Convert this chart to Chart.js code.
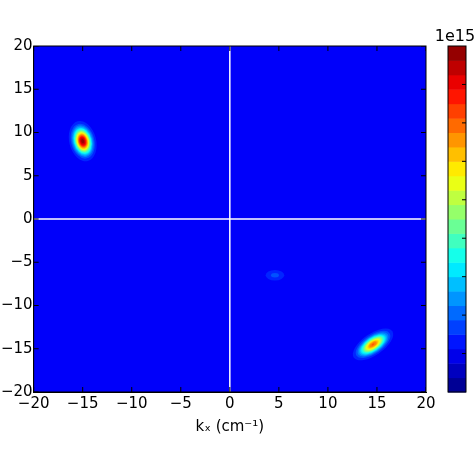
<!DOCTYPE html>
<html>
<head>
<meta charset="utf-8">
<script src="https://cdn.jsdelivr.net/npm/chart.js@4/dist/chart.umd.min.js"></script>
<style>
  body { margin: 0; background: #fff; }
  #wrap { width: 474px; height: 474px; }
</style>
</head>
<body>
<div id="wrap"><canvas id="myChart"></canvas></div>
<script>
// blob peaks (values in units of 1e15)
const blobX = [-15, 14.6, 4.6];
const blobY = [9, -14.5, -6.5];
const blobPeak = [1.0, 0.8, 0.22];
const blobSx = [0.55, 1.0, 0.7];
const blobSy = [0.95, 0.52, 0.45];
const blobTilt = [-0.25, -0.6, 0];
const axisTicks = [-20, -15, -10, -5, 0, 5, 10, 15, 20];
const baseLevel = 0.12;

function jet(t) {
    const c = v => Math.round(255 * Math.max(0, Math.min(1, v)));
    return 'rgb(' + c(1.5 - Math.abs(4 * t - 3)) + ',' + c(1.5 - Math.abs(4 * t - 2)) + ',' + c(1.5 - Math.abs(4 * t - 1)) + ')';
}
const fmt = v => String(v).replace('-', '\u2212');

const heatPlugin = {
    id: 'heat',
    beforeDatasetsDraw(chart) {
        const {ctx, chartArea: a, scales: {x, y}} = chart;
        ctx.save();
        ctx.beginPath();
        ctx.rect(a.left, a.top, a.right - a.left, a.bottom - a.top);
        ctx.clip();
        ctx.fillStyle = jet(baseLevel);
        ctx.fillRect(a.left, a.top, a.right - a.left, a.bottom - a.top);
        const pxX = Math.abs(x.getPixelForValue(1) - x.getPixelForValue(0));
        const pxY = Math.abs(y.getPixelForValue(1) - y.getPixelForValue(0));
        for (let i = 0; i < blobX.length; i++) {
            const cx = x.getPixelForValue(blobX[i]);
            const cy = y.getPixelForValue(blobY[i]);
            for (let L = baseLevel + 0.04; L < blobPeak[i]; L += 0.045) {
                const d = Math.sqrt(2 * Math.log((blobPeak[i] - baseLevel) / (L - baseLevel)));
                ctx.beginPath();
                ctx.ellipse(cx, cy, d * blobSx[i] * pxX, d * blobSy[i] * pxY, blobTilt[i], 0, 2 * Math.PI);
                ctx.fillStyle = jet(L);
                ctx.fill();
            }
        }
        // white zero lines
        ctx.strokeStyle = '#ffffff';
        ctx.lineWidth = 1.5;
        ctx.beginPath();
        ctx.moveTo(x.getPixelForValue(0), a.top);
        ctx.lineTo(x.getPixelForValue(0), a.bottom);
        ctx.moveTo(a.left, y.getPixelForValue(0));
        ctx.lineTo(a.right, y.getPixelForValue(0));
        ctx.stroke();
        // inward ticks
        ctx.strokeStyle = '#000';
        ctx.lineWidth = 1;
        ctx.beginPath();
        axisTicks.forEach(v => {
            const px = x.getPixelForValue(v), py = y.getPixelForValue(v);
            ctx.moveTo(px, a.bottom); ctx.lineTo(px, a.bottom - 5);
            ctx.moveTo(px, a.top); ctx.lineTo(px, a.top + 5);
            ctx.moveTo(a.left, py); ctx.lineTo(a.left + 5, py);
            ctx.moveTo(a.right, py); ctx.lineTo(a.right - 5, py);
        });
        ctx.stroke();
        ctx.restore();
    },
    afterDraw(chart) {
        const {ctx, chartArea: a} = chart;
        const left = 448, w = 18;
        const h = a.bottom - a.top;
        const n = 24;
        ctx.save();
        for (let k = 0; k < n; k++) {
            ctx.fillStyle = jet((k + 0.5) / n);
            ctx.fillRect(left, a.bottom - (k + 1) * h / n, w, h / n + 0.5);
        }
        ctx.strokeStyle = '#000';
        ctx.lineWidth = 1;
        ctx.strokeRect(left, a.top, w, h);
        for (let k = 1; k <= 8; k++) {
            const yy = a.bottom - k * h / 9;
            ctx.beginPath();
            ctx.moveTo(left + w - 4, yy);
            ctx.lineTo(left + w, yy);
            ctx.stroke();
        }
        ctx.fillStyle = '#000';
        ctx.font = '16px "DejaVu Sans"';
        ctx.textAlign = 'center';
        ctx.fillText('1e15', 455, a.top - 5);
        // axes frame
        ctx.strokeRect(a.left, a.top, a.right - a.left, a.bottom - a.top);
        ctx.restore();
    }
};

new Chart(document.getElementById('myChart'), {
    type: 'scatter',
    data: {
        datasets: [{
            data: blobX.map((v, i) => ({x: v, y: blobY[i]})),
            pointRadius: 0
        }]
    },
    options: {
        responsive: true,
        maintainAspectRatio: false,
        animation: false,
        layout: {padding: {top: 46, right: 48, left: 0, bottom: 36}},
        plugins: {legend: {display: false}, tooltip: {enabled: false}},
        scales: {
            x: {
                min: -20, max: 20,
                afterBuildTicks: s => { s.ticks = axisTicks.map(v => ({value: v})); },
                grid: {display: false, drawTicks: false},
                border: {color: '#000'},
                ticks: {color: '#000', font: {family: 'DejaVu Sans', size: 15}, padding: 3, maxRotation: 0, callback: fmt},
                title: {display: true, text: 'kₓ (cm⁻¹)', color: '#000', font: {family: 'DejaVu Sans', size: 15}, padding: 2}
            },
            y: {
                min: -20, max: 20,
                afterBuildTicks: s => { s.ticks = axisTicks.map(v => ({value: v})); },
                grid: {display: false, drawTicks: false},
                border: {color: '#000'},
                ticks: {color: '#000', font: {family: 'DejaVu Sans', size: 15}, padding: 1, callback: fmt}
            }
        }
    },
    plugins: [heatPlugin]
});
</script>
</body>
</html>
